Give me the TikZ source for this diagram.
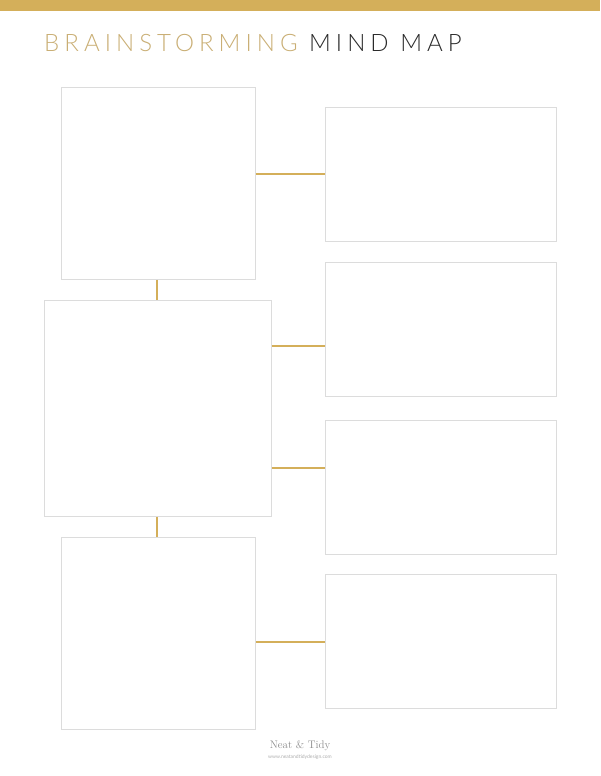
\documentclass[tikz,border=0pt]{standalone}
\usepackage{fontspec}
\newfontfamily\titlefont{Lato}[UprightFont=* Light,LetterSpace=21]
\newfontfamily\sitefont{Lato}
\usetikzlibrary{calc}
\definecolor{gold}{HTML}{D4AF5A}
\definecolor{lightgold}{HTML}{C9AE74}
\definecolor{titleink}{HTML}{2A2A2A}
\definecolor{boxline}{HTML}{DCDCDC}
\definecolor{footink}{HTML}{8A8A8A}
\begin{document}
\begin{tikzpicture}[x=1pt,y=-1pt,
    idea/.style={draw=boxline,line width=0.9pt,fill=white,inner sep=0pt,anchor=north west},
    branch/.style={draw=gold,line width=1.6pt}]
    \useasboundingbox (0,0) rectangle (600,776);
    \fill[gold] (0,0) rectangle (600,11);

    \node at (44,52) [anchor=base west,inner sep=0pt,font=\titlefont\fontsize{24}{28}\selectfont]
        {\textcolor{lightgold}{BRAINSTORMING} \textcolor{titleink}{MIND MAP}};

    % left column
    \node (top) at (61,87) [idea,minimum width=194pt,minimum height=192pt]{};
    \node (mid) at (44,300) [idea,minimum width=227pt,minimum height=216pt]{};
    \node (bot) at (61,537) [idea,minimum width=194pt,minimum height=192pt]{};

    % right column
    \foreach \y/\n in {107/r1,262/r2,420/r3,574/r4}
    {
        \node (\n) at (325,\y) [idea,minimum width=231pt,minimum height=134pt]{};
    }

    \draw[branch] (top.south -| 157,0) -- (mid.north -| 157,0);
    \draw[branch] (mid.south -| 157,0) -- (bot.north -| 157,0);
    \draw[branch] (top.east |- 0,174) -- (r1.west |- 0,174);
    \draw[branch] (mid.east |- 0,346) -- (r2.west |- 0,346);
    \draw[branch] (mid.east |- 0,468) -- (r3.west |- 0,468);
    \draw[branch] (bot.east |- 0,642) -- (r4.west |- 0,642);

    \node (brand) at (300,746) [text=footink,font=\fontsize{11}{12}\selectfont]{Neat \& Tidy};
    \node (site) at (300,757) [text=footink!70,font=\sitefont\fontsize{5}{6}\selectfont]{www.neatandtidydesign.com};
\end{tikzpicture}
\end{document}
